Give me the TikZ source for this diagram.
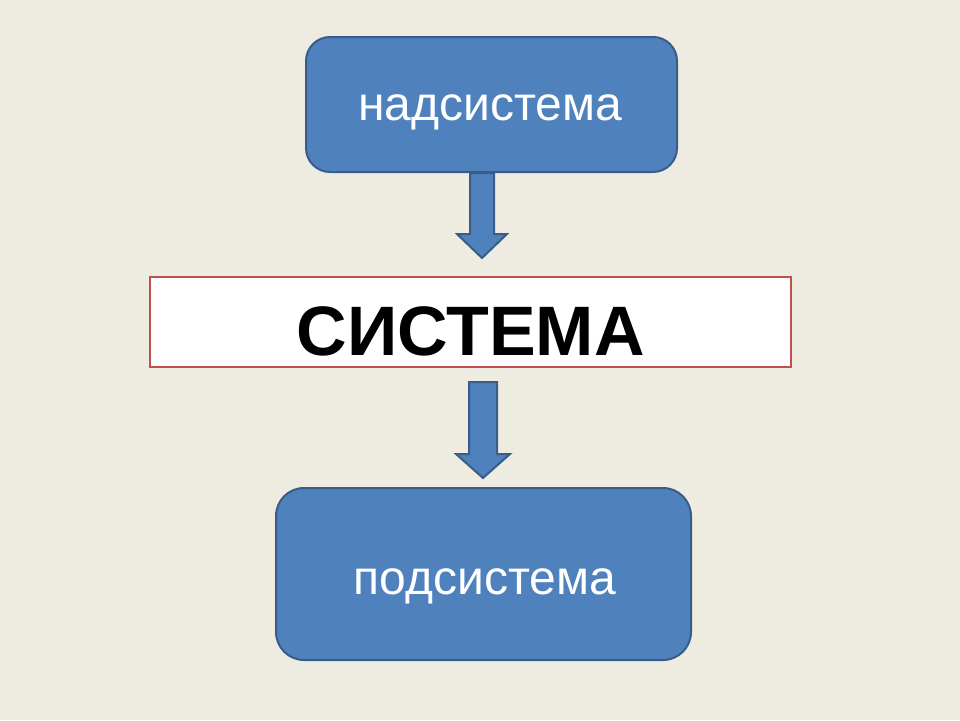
\documentclass[tikz,border=0pt]{standalone}
\usepackage{fontspec}
\setmainfont{Liberation Sans}
\usetikzlibrary{calc}
\definecolor{slidebg}{HTML}{EEECE1}
\definecolor{boxblue}{HTML}{4F81BD}
\definecolor{boxline}{HTML}{385D8A}
\definecolor{sysline}{HTML}{C0504D}
% block arrow: top point, tip point, half shaft, half head
\newcommand{\blockarr}[4]{
	\draw[arrowshape] let \p1=(#1), \p2=(#2) in
		(\x1-#3,\y1) -- (\x1+#3,\y1) -- (\x1+#3,\y2+24pt) -- (\x1+#4,\y2+24pt)
		-- (\x2,\y2) -- (\x1-#4,\y2+24pt) -- (\x1-#3,\y2+24pt) -- cycle;
}

\begin{document}
\begin{tikzpicture}[x=1pt,y=-1pt,
		bluebox/.style={draw=boxline,line width=2pt,fill=boxblue,rounded corners=#1,inner sep=0pt},
		sysbox/.style={draw=sysline,line width=2pt,fill=white,inner sep=0pt},
		arrowshape/.style={draw=boxline,line width=2pt,fill=boxblue,line join=miter},
		smalltext/.style={text=white,font=\fontsize{48}{48}\selectfont,anchor=base,inner sep=0pt},
		bigtext/.style={text=black,font=\fontsize{70}{70}\selectfont\bfseries,anchor=base,inner sep=0pt}]
		\useasboundingbox (0,0) rectangle (960,720);
		\fill[slidebg] (0,0) rectangle (960,720);

		\node[bluebox=24pt,minimum width=371pt,minimum height=135pt] (nad) at (491.5,104.5) {};
		\node[sysbox,minimum width=641pt,minimum height=90pt] (sys) at (470.5,322) {};
		\node[bluebox=28pt,minimum width=415pt,minimum height=172pt] (pod) at (483.5,574) {};

		\node[smalltext] (nad_txt) at (490,120) {надсистема};
		\node[bigtext] (sys_txt) at (470.5,355) {СИСТЕМА};
		\node[smalltext] (pod_txt) at (485,594) {подсистема};

		\coordinate (arr1_top) at (nad.south -| 482,0);
		\coordinate (arr1_tip) at (482,258);
		\coordinate (arr2_top) at (483,382);
		\coordinate (arr2_tip) at (483,478);
		\blockarr{arr1_top}{arr1_tip}{12pt}{25pt}
		\blockarr{arr2_top}{arr2_tip}{14pt}{27pt}
	\end{tikzpicture}
\end{document}
